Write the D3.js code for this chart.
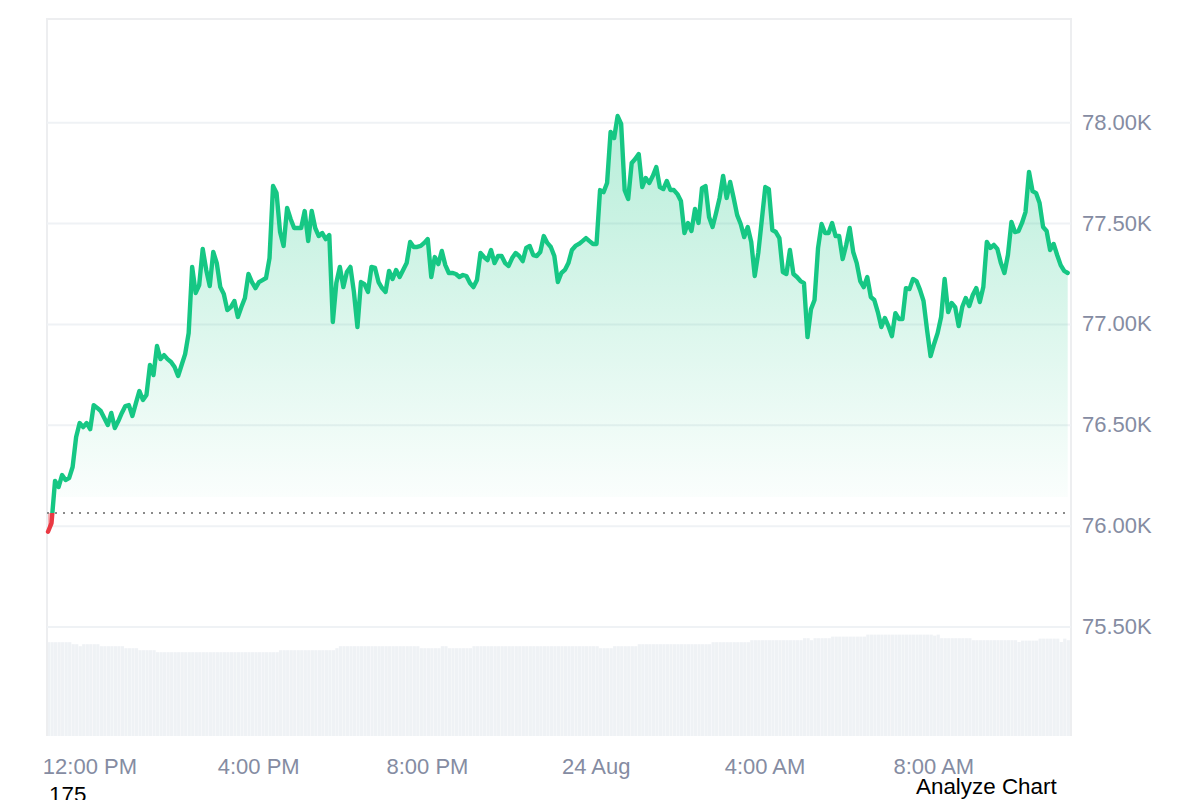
<!DOCTYPE html>
<html>
<head>
<meta charset="utf-8">
<script src="https://cdn.jsdelivr.net/npm/d3@7"></script>
<style>
html,body{margin:0;padding:0;background:#fff;overflow:hidden}
svg{display:block}
text{font-family:"Liberation Sans",Arial,sans-serif}
</style>
</head>
<body>
<svg id="chart" width="1200" height="800"></svg>
<script>
const startTime = "2025-08-23T11:00:00Z";
const stepMinutes = 5;
const openPrice = 76065;
const fillFloorPrice = 76143;
const priceTicks = [75500,76000,76500,77000,77500,78000];
const timeTicks = ["2025-08-23T12:00:00Z","2025-08-23T16:00:00Z","2025-08-23T20:00:00Z","2025-08-24T00:00:00Z","2025-08-24T04:00:00Z","2025-08-24T08:00:00Z"];
const prices = [
75972,76015,76224,76194,76253,76229,76238,76293,76442,76511,76491,76511,76481,76600,76586,76571,76536,76501,76561,76486,
76521,76561,76595,76600,76546,76610,76670,76625,76650,76799,76749,76893,76828,76848,76828,76814,76789,76744,76799,76853,
76957,77285,77156,77195,77374,77270,77190,77359,77304,77185,77151,77071,77086,77116,77037,77086,77131,77250,77210,77180,
77210,77220,77230,77329,77686,77651,77458,77389,77577,77523,77478,77478,77478,77562,77413,77562,77478,77438,77453,77423,
77443,77012,77205,77285,77185,77260,77285,77161,76987,77210,77200,77161,77285,77280,77210,77180,77161,77265,77225,77270,
77235,77270,77304,77409,77384,77384,77389,77404,77423,77235,77334,77299,77364,77294,77255,77255,77250,77235,77245,77240,
77205,77185,77220,77354,77334,77319,77369,77304,77339,77339,77304,77290,77329,77354,77339,77314,77379,77389,77344,77339,
77359,77438,77404,77384,77339,77210,77255,77270,77304,77369,77389,77399,77413,77428,77413,77399,77399,77666,77656,77701,
77954,77924,78033,77994,77666,77622,77800,77820,77845,77681,77726,77701,77736,77780,77681,77671,77711,77666,77666,77646,
77612,77453,77503,77463,77572,77503,77676,77686,77532,77483,77552,77627,77736,77627,77706,77627,77542,77498,77433,77483,
77409,77240,77354,77518,77681,77671,77468,77458,77428,77260,77250,77369,77250,77235,77215,77205,76937,77076,77121,77379,
77498,77453,77453,77503,77438,77438,77324,77394,77478,77359,77304,77215,77185,77235,77136,77121,77061,76987,77032,76992,
76942,77056,77027,77027,77180,77175,77225,77215,77171,77116,76972,76843,76903,76957,77037,77225,77061,77106,77086,76992,
77086,77131,77091,77146,77180,77111,77185,77409,77379,77394,77374,77304,77255,77344,77508,77458,77463,77503,77557,77756,
77661,77651,77602,77483,77463,77369,77399,77344,77294,77265,77255
];
const volumes = [
46.9,46.9,46.9,46.9,46.9,46.9,46.9,45.9,45.9,44.9,45.9,45.9,45.9,45.9,45.9,44.9,44.9,44.9,44.9,44.9,
44.9,44.9,43.9,43.9,43.9,43.9,42.9,42.9,42.9,42.9,42.9,41.9,41.9,41.9,41.9,41.9,41.9,41.9,41.9,41.9,
41.9,41.9,41.9,41.9,41.9,41.9,41.9,41.9,41.9,41.9,41.9,41.9,41.9,41.9,41.9,41.9,41.9,41.9,41.9,41.9,
41.9,41.9,41.9,41.9,41.9,41.9,42.9,42.9,42.9,42.9,42.9,42.9,42.9,42.9,42.9,42.9,42.9,42.9,42.9,42.9,
42.9,42.9,43.9,44.9,44.9,44.9,44.9,44.9,44.9,44.9,44.9,44.9,44.9,44.9,44.9,44.9,44.9,44.9,44.9,44.9,
44.9,44.9,44.9,44.9,44.9,44.9,43.9,43.9,43.9,43.9,43.9,43.9,44.9,44.9,43.9,43.9,43.9,43.9,43.9,43.9,
43.9,44.9,44.9,44.9,44.9,44.9,44.9,44.9,44.9,44.9,44.9,44.9,44.9,44.9,44.9,44.9,44.9,44.9,44.9,44.9,
44.9,44.9,44.9,44.9,44.9,44.9,44.9,44.9,44.9,44.9,44.9,44.9,44.9,44.9,44.9,44.9,44.9,43.9,43.9,43.9,
43.9,44.9,44.9,44.9,44.9,44.9,44.9,44.9,45.9,45.9,45.9,45.9,45.9,45.9,45.9,45.9,45.9,45.9,45.9,45.9,
45.9,45.9,45.9,45.9,45.9,45.9,45.9,45.9,45.9,46.9,46.9,46.9,46.9,46.9,46.9,46.9,46.9,46.9,46.9,46.9,
47.9,47.9,47.9,47.9,47.9,47.9,47.9,47.9,47.9,47.9,47.9,47.9,47.9,47.9,47.9,48.9,48.9,47.9,48.9,48.9,
48.9,48.9,48.9,49.7,49.7,49.7,49.7,49.7,49.7,49.7,49.7,49.7,49.7,50.7,50.7,50.7,50.7,50.7,50.7,50.7,
50.7,50.7,50.7,50.7,50.7,50.7,50.7,50.7,50.7,50.7,50.7,50.7,50.2,50.7,48.9,48.9,48.9,48.9,48.9,48.9,
48.9,48.9,48.9,47.9,47.9,47.9,47.9,47.9,47.9,47.9,47.9,47.9,47.9,47.9,47.9,47.9,47.0,47.7,47.7,47.7,
47.7,47.7,48.7,48.7,48.7,48.7,48.7,48.7,47.0,48.7,47.9
];
const leftNote = "175";
const rightNote = "Analyze Chart";

const GREEN="#16C784", RED="#EA3943", GRID="#EFF2F5", FRAME="#EDEEF0", TEXT="#858CA2";
const plot={left:47,right:1071,top:19,bottom:736};
const svg=d3.select("#chart");
const t0=new Date(startTime);
const times=prices.map((_,i)=>new Date(+t0+i*stepMinutes*60000));

const x=d3.scaleUtc().domain([times[0],times[times.length-1]]).range([48,1067.7]);
const y=d3.scaleLinear().domain([75500,78000]).range([627,122.7]);
const yVol=d3.scaleLinear().domain([0,50]).range([plot.bottom,plot.bottom-100]);

const defs=svg.append("defs");
const grad=defs.append("linearGradient").attr("id","greenFill").attr("gradientUnits","userSpaceOnUse")
  .attr("x1",0).attr("x2",0).attr("y1",y(78033)).attr("y2",y(fillFloorPrice));
grad.append("stop").attr("offset",0).attr("stop-color",GREEN).attr("stop-opacity",0.31);
grad.append("stop").attr("offset",1).attr("stop-color",GREEN).attr("stop-opacity",0.02);
defs.append("clipPath").attr("id","above").append("rect").attr("x",0).attr("y",0).attr("width",1200).attr("height",y(openPrice));
defs.append("clipPath").attr("id","below").append("rect").attr("x",0).attr("y",y(openPrice)).attr("width",1200).attr("height",800-y(openPrice));
defs.append("clipPath").attr("id","fillClip").append("rect").attr("x",0).attr("y",0).attr("width",1200).attr("height",y(fillFloorPrice));

// volume bars
svg.append("g").selectAll("rect").data(volumes).join("rect")
  .attr("x",(d,i)=>x(times[i])-1).attr("width",3.2)
  .attr("y",d=>yVol(d)).attr("height",d=>plot.bottom-yVol(d))
  .attr("fill",GRID);

// frame
const frame=svg.append("g").attr("stroke",FRAME).attr("stroke-width",2).attr("fill","none");
frame.append("path").attr("d",d3.line()([[plot.left,plot.bottom],[plot.left,plot.top],[plot.right,plot.top],[plot.right,plot.bottom]]));

// grid
svg.append("g").selectAll("line").data(priceTicks).join("line")
  .attr("x1",plot.left).attr("x2",plot.right).attr("y1",d=>y(d)).attr("y2",d=>y(d))
  .attr("stroke",GRID).attr("stroke-width",2);

// area
const area=d3.area().x((d,i)=>x(times[i])).y0(y(fillFloorPrice)).y1(d=>y(d));
svg.append("path").datum(prices).attr("d",area).attr("fill","url(#greenFill)").attr("clip-path","url(#fillClip)");
const redArea=d3.area().x((d,i)=>x(times[i])).y0(y(openPrice)).y1(d=>y(d));
svg.append("path").datum(prices).attr("d",redArea).attr("fill",RED).attr("fill-opacity",0.4).attr("clip-path","url(#below)");

// baseline
svg.append("line").attr("x1",plot.left).attr("x2",1068).attr("y1",y(openPrice)).attr("y2",y(openPrice))
  .attr("stroke","#8a8a8a").attr("stroke-width",2).attr("stroke-dasharray","2,6");

// price line
const line=d3.line().x((d,i)=>x(times[i])).y(d=>y(d));
const drawLine=(color,clip)=>svg.append("path").datum(prices).attr("d",line).attr("fill","none")
  .attr("stroke",color).attr("stroke-width",4.4).attr("stroke-linejoin","round").attr("stroke-linecap","round")
  .attr("clip-path",`url(#${clip})`);
drawLine(GREEN,"above");
drawLine(RED,"below");

// axes
const yAxis=d3.axisRight(y).tickValues(priceTicks).tickSize(0).tickPadding(11)
  .tickFormat(d=>(d/1000).toFixed(2)+"K");
svg.append("g").attr("transform",`translate(${plot.right},-0.6)`).call(yAxis)
  .call(g=>g.select(".domain").remove())
  .call(g=>g.selectAll("text").attr("fill",TEXT).attr("font-size",22).attr("font-family",'"Liberation Sans",Arial,sans-serif'));

const fmtHour=d3.utcFormat("%-I:%M %p"), fmtDay=d3.utcFormat("%-d %b");
const xAxis=d3.axisBottom(x).tickValues(timeTicks.map(s=>new Date(s))).tickSize(0).tickPadding(22)
  .tickFormat(d=>d.getUTCHours()===0?fmtDay(d):fmtHour(d));
svg.append("g").attr("transform",`translate(-0.8,${plot.bottom})`).call(xAxis)
  .call(g=>g.select(".domain").remove())
  .call(g=>g.selectAll("text").attr("fill",TEXT).attr("font-size",22).attr("font-family",'"Liberation Sans",Arial,sans-serif'));

// notes
svg.append("text").attr("x",49).attr("y",802).attr("font-size",22.4).attr("fill","#000").text(leftNote);
svg.append("text").attr("x",916).attr("y",793.5).attr("font-size",22.4).attr("fill","#000").text(rightNote);
</script>
</body>
</html>
